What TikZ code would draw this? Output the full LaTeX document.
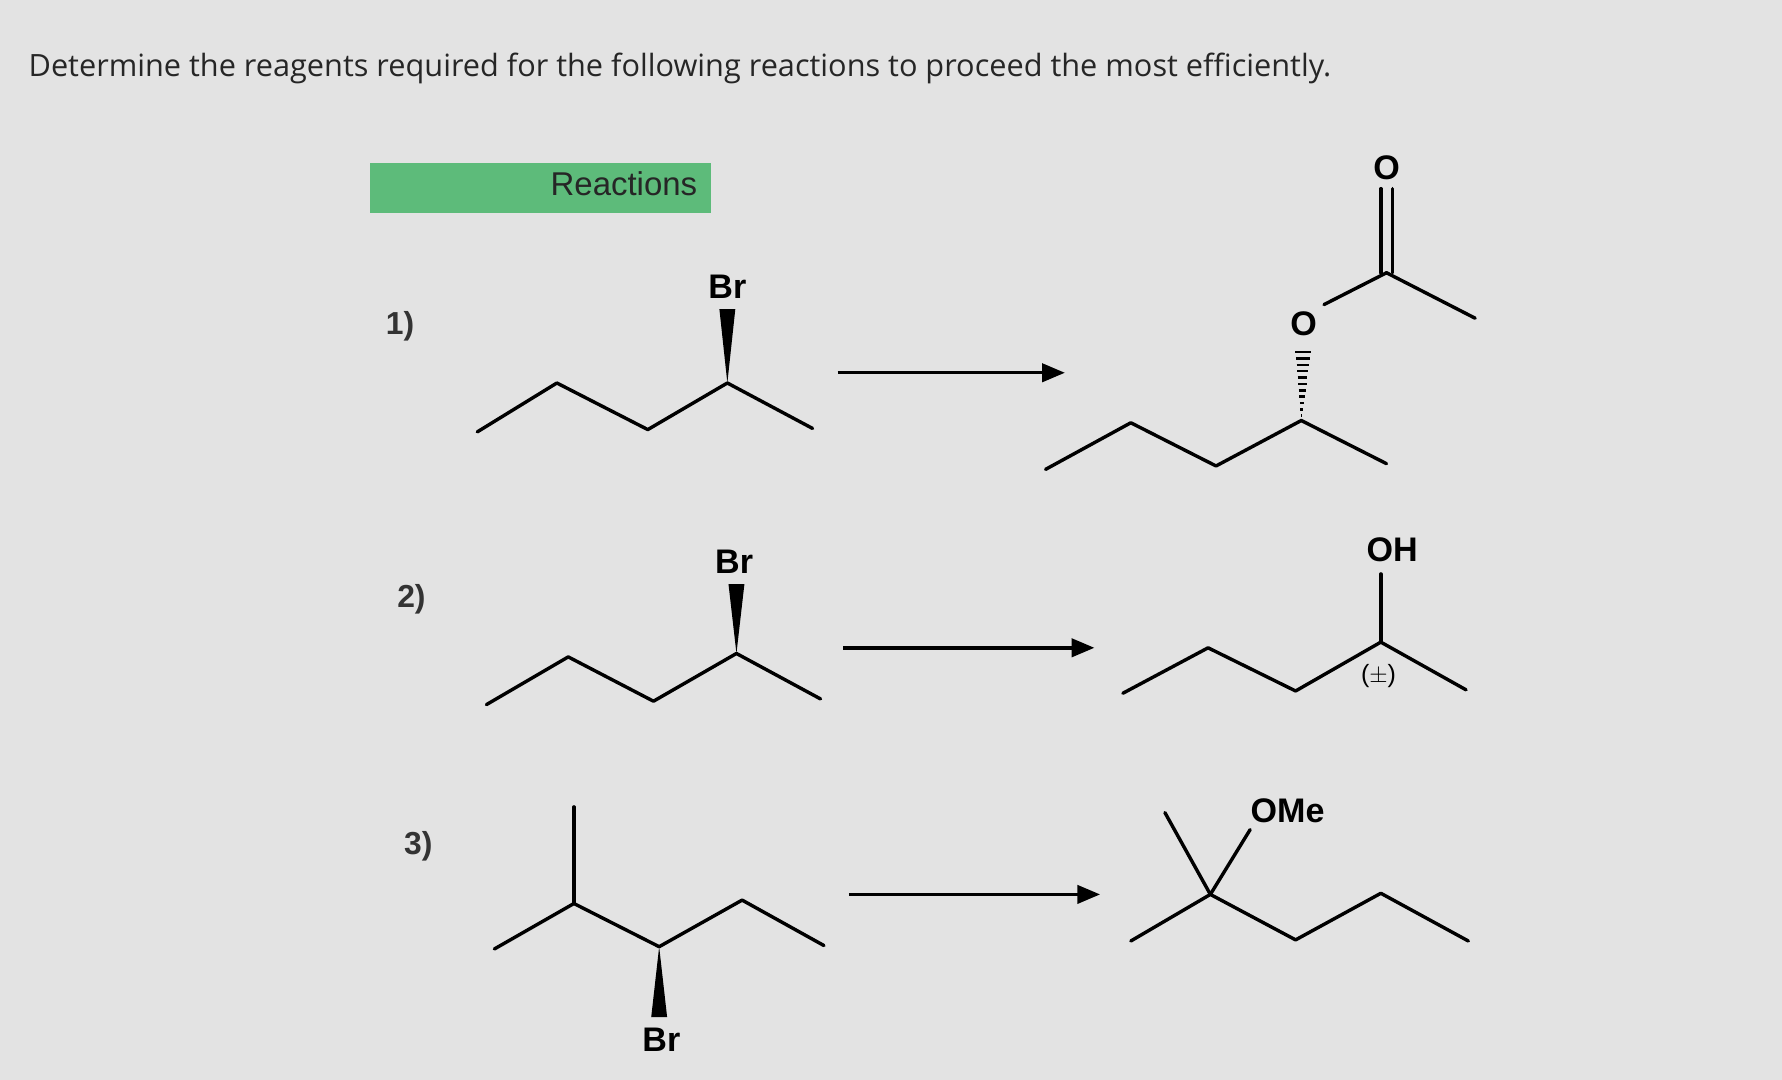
\documentclass[tikz,border=0pt]{standalone}
\usepackage{fontspec}
\setmainfont{Open Sans}
\setsansfont{Liberation Sans}
\usetikzlibrary{arrows.meta,calc}
\definecolor{hdrgreen}{HTML}{5DBB7A}
\begin{document}
\begin{tikzpicture}[x=1pt,y=-1pt,
  bond/.style={line width=3pt,line cap=round,line join=round},
  atom/.style={font=\sffamily\bfseries\fontsize{30}{32}\selectfont,inner sep=1pt},
  lab/.style={font=\sffamily\bfseries\fontsize{28}{30}\selectfont,inner sep=0pt,text=black!80},
  rxn/.style={line width=3pt,-{Triangle[length=20pt,width=16pt]}}]
\useasboundingbox[fill=black!11] (0,0) rectangle (1568,950);
\node[anchor=west,font=\fontsize{27}{30}\selectfont,inner sep=0pt,text=black!85] (title) at (25,60) {Determine the reagents required for the following reactions to proceed the most efficiently.};
\node[fill=hdrgreen,minimum width=300pt,minimum height=44pt,inner sep=0pt] (hdr) at (476,165) {};
\node[font=\sffamily\fontsize{29}{30}\selectfont,text=black!85] (hdrt) at (549,162) {Reactions};
\node[lab] (l1) at (352,287) {1)};
\node[lab] (l2) at (362,527) {2)};
\node[lab] (l3) at (368,745) {3)};
% molecule 1
\draw[bond] (420,380)--(490,337)--(570,378)--(640,337)--(715,377);
\coordinate (c1) at (640,337);
\fill (c1) -- (633,272) -- (647,272) -- cycle;
\node[atom] (br1) at (640,252) {Br};
\coordinate (a1s) at (737,328); \coordinate (a1e) at (937,328);
\draw[rxn] (a1s)--(a1e);
% product 1
\draw[bond] (920,413)--(995,372)--(1070,410)--(1145,370)--(1220,408);
\foreach \t in {0.06,0.14,...,0.9} {
  \draw[line width=2.2pt] ($(1145,370)!\t!(1147,300)+(-8*\t,0)$) -- ($(1145,370)!\t!(1147,300)+(8*\t,0)$);
}
\node[atom] (o1) at (1147,285) {O};
\draw[bond] (1165,268)--(1220,240)--(1298,280);
\draw[bond] (1215,240)--(1215,166);
\draw[bond] (1225,240)--(1225,166);
\node[atom] (o2) at (1220,148) {O};
% molecule 2
\draw[bond] (428,620)--(500,578)--(575,617)--(648,575)--(722,615);
\fill (648,575) -- (641,514) -- (655,514) -- cycle;
\node[atom] (br2) at (646,494) {Br};
\coordinate (a2s) at (742,570); \coordinate (a2e) at (963,570);
\draw[rxn] (a2s)--(a2e);
\draw[bond] (988,610)--(1063,570)--(1140,608)--(1215,565)--(1290,607);
\draw[bond] (1215,565)--(1215,505);
\node[atom] (oh) at (1225,484) {OH};
\node[font=\sffamily\fontsize{22}{24}\selectfont,inner sep=0pt] (pm) at (1213,595) {($\pm$)};
% molecule 3
\draw[bond] (435,835)--(505,795)--(580,833)--(653,792)--(725,832);
\draw[bond] (505,795)--(505,710);
\fill (580,833) -- (573,895) -- (587,895) -- cycle;
\node[atom] (br3) at (582,915) {Br};
\coordinate (a3s) at (747,787); \coordinate (a3e) at (968,787);
\draw[rxn] (a3s)--(a3e);
\draw[bond] (995,828)--(1065,787)--(1140,827)--(1215,786)--(1292,828);
\draw[bond] (1065,787)--(1025,715);
\draw[bond] (1065,787)--(1100,730);
\node[atom] (ome) at (1133,713) {OMe};
\end{tikzpicture}
\end{document}
